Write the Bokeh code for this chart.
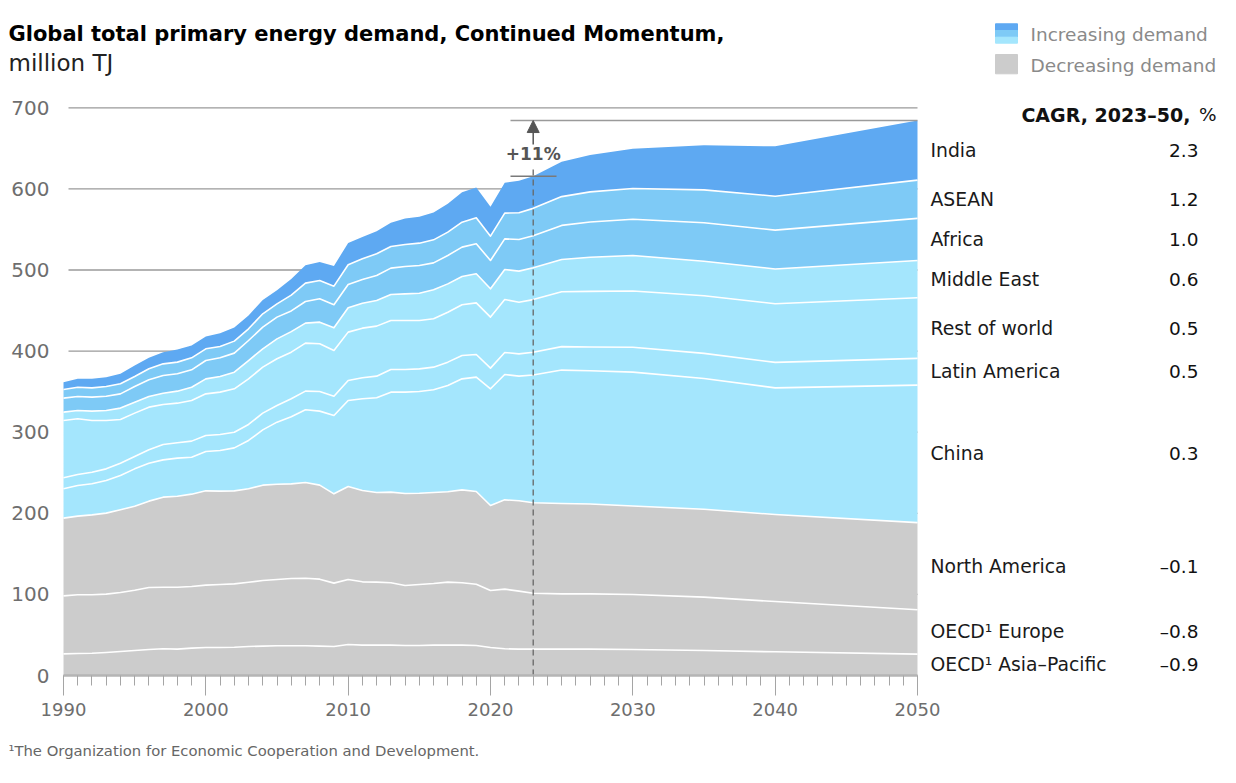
import numpy as np
from bokeh.plotting import figure
from bokeh.models import (ColumnDataSource, Arrow, NormalHead, FixedTicker,
                          SingleIntervalTicker, Range1d, Title)
from bokeh.embed import file_html
from bokeh.resources import INLINE
from bokeh.core.properties import value

# ---------------- data (million TJ) ----------------
years = list(range(1990, 2024)) + [2025, 2027, 2030, 2035, 2040, 2050]

oecd_ap = [26.7, 27.1, 27.5, 28.4, 29.6, 30.8, 32.1, 32.9, 32.5, 33.7,
           34.5, 34.5, 34.9, 35.8, 36.2, 36.6, 36.6, 36.6, 36.2, 35.8,
           38.2, 37.4, 37.4, 37.4, 37.0, 37.0, 37.4, 37.4, 37.4, 37.0,
           34.5, 32.9, 32.5, 32.5,
           32.5, 32.5, 32.1, 30.8, 29.2, 26.3]
oecd_eu = [71.5, 72.4, 72.0, 71.9, 72.7, 74.4, 76.4, 76.0, 76.4, 76.0,
           76.9, 77.7, 78.1, 79.2, 80.9, 81.8, 83.0, 83.4, 82.6, 78.1,
           80.2, 78.1, 77.7, 76.9, 74.0, 75.2, 76.0, 77.7, 76.9, 75.6,
           70.3, 73.6, 71.5, 69.0,
           68.2, 68.2, 67.8, 65.8, 62.0, 54.7]
north_america = [95.8, 97.0, 98.6, 99.9, 102.0, 103.6, 106.5, 111.0, 112.2, 113.9,
                 116.3, 115.1, 114.7, 115.2, 117.6, 117.5, 116.7, 118.0, 115.9, 110.1,
                 114.6, 112.6, 110.5, 111.8, 113.4, 112.6, 112.2, 111.4, 114.6, 114.3,
                 104.8, 110.1, 111.4, 111.5,
                 111.3, 110.8, 109.1, 108.4, 107.3, 107.5]
china = [36.2, 37.8, 38.3, 40.3, 42.3, 46.0, 46.8, 46.0, 46.9, 45.6,
         48.5, 50.1, 53.0, 59.6, 68.2, 76.5, 82.7, 89.6, 91.3, 96.6,
         106.1, 113.1, 116.8, 123.3, 125.0, 125.4, 126.7, 131.1, 136.9, 141.0,
         143.9, 154.6, 153.7, 157.6,
         164.6, 164.3, 165.1, 161.3, 156.2, 169.5]
latin_america = [13.6, 13.6, 14.3, 14.3, 15.2, 15.3, 16.5, 18.9, 18.9, 19.8,
                 19.7, 19.8, 19.3, 19.7, 20.6, 20.6, 22.2, 23.0, 24.2, 23.8,
                 24.7, 25.9, 26.7, 27.9, 27.9, 27.9, 27.9, 28.8, 28.8, 27.9,
                 25.5, 27.1, 27.5, 28.0,
                 28.9, 29.3, 30.6, 30.9, 31.4, 33.0]
rest_of_world = [70.6, 68.6, 63.7, 59.6, 53.9, 53.4, 52.6, 49.4, 48.9, 50.1,
                 51.4, 52.2, 53.5, 56.3, 56.7, 57.5, 57.5, 59.2, 58.8, 56.4,
                 59.6, 61.2, 61.7, 60.4, 60.4, 59.6, 59.6, 61.6, 62.5, 63.7,
                 62.9, 65.3, 63.7, 64.9,
                 67.7, 68.6, 69.4, 71.1, 72.3, 74.8]
middle_east = [10.3, 10.3, 11.6, 12.4, 14.0, 13.5, 13.1, 13.9, 14.8, 16.4,
               18.5, 19.3, 20.5, 22.6, 22.6, 24.6, 25.3, 24.7, 26.7, 27.9,
               30.0, 30.8, 31.6, 32.1, 32.9, 33.7, 35.8, 34.9, 34.9, 35.8,
               34.9, 37.0, 38.3, 39.2,
               39.7, 42.1, 43.8, 42.5, 42.9, 45.9]
africa = [17.3, 17.2, 17.2, 17.6, 17.6, 19.4, 20.6, 21.8, 21.4, 21.4,
          22.6, 23.0, 23.5, 24.7, 26.7, 26.8, 25.5, 26.7, 28.8, 28.4,
          28.7, 29.2, 30.8, 32.5, 33.7, 34.2, 33.2, 35.0, 36.2, 37.0,
          34.9, 37.8, 39.0, 39.5,
          42.1, 43.4, 44.6, 47.5, 47.9, 52.0]
asean = [10.7, 11.5, 11.5, 12.0, 12.4, 12.3, 13.6, 14.4, 14.4, 14.8,
         14.4, 14.0, 14.8, 14.4, 16.5, 16.4, 19.5, 22.6, 22.6, 23.0,
         24.3, 25.5, 26.8, 26.7, 27.2, 27.5, 28.4, 28.8, 30.8, 32.0,
         30.0, 31.7, 32.9, 33.8,
         35.5, 37.1, 38.0, 40.5, 41.8, 47.1]
india = [9.0, 10.3, 11.1, 11.5, 12.3, 13.6, 13.5, 14.4, 15.6, 15.3,
         15.2, 16.3, 16.7, 16.5, 17.0, 16.7, 20.0, 22.2, 22.9, 24.9,
         26.9, 26.9, 27.7, 29.4, 32.0, 32.7, 33.7, 35.1, 37.0, 37.5,
         36.3, 37.4, 39.5, 39.5,
         43.0, 45.5, 49.1, 54.9, 61.5, 73.5]

region_keys = ["oecd_ap", "oecd_eu", "north_america", "china", "latin_america",
               "rest_of_world", "middle_east", "africa", "asean", "india"]
region_series = [oecd_ap, oecd_eu, north_america, china, latin_america,
                 rest_of_world, middle_east, africa, asean, india]
region_labels = ["OECD¹ Asia–Pacific", "OECD¹ Europe", "North America", "China",
                 "Latin America", "Rest of world", "Middle East", "Africa", "ASEAN", "India"]
cagr = [-0.9, -0.8, -0.1, 0.3, 0.5, 0.5, 0.6, 1.0, 1.2, 2.3]
y_ticks = [0, 100, 200, 300, 400, 500, 600, 700]
base_year = 2023

title_text = "Global total primary energy demand, Continued Momentum,"
subtitle_text = "million TJ"
legend_texts = ["Increasing demand", "Decreasing demand"]
footnote_text = "¹The Organization for Economic Cooperation and Development."

# ---------------- styling ----------------
GREY = "#cccccc"
LIGHT = "#a4e6fd"
MED = "#7ecaf6"
DARK = "#5ea9f2"
layer_colors = [GREY, GREY, GREY, LIGHT, LIGHT, LIGHT, LIGHT, MED, MED, DARK]
FONT = "DejaVu Sans"

W, H = 1230, 781
LEFT = 8                  # frame left (page px)
FRAME_BOTTOM = 675        # page y of value 0
PXX = 854 / 60.0          # px per year
PY = (675 - 107.3) / 700  # px per unit


def X(px):
    return 1990 + (px - 63) / PXX


def Y(py):
    return (FRAME_BOTTOM - py) / PY


p = figure(width=W, height=H, x_range=Range1d(X(LEFT), X(W)), y_range=Range1d(0, Y(0)),
           output_backend="svg", toolbar_location=None,
           min_border_left=LEFT, min_border_right=0, min_border_top=0,
           min_border_bottom=H - FRAME_BOTTOM)
p.outline_line_color = None
p.background_fill_color = "white"
p.border_fill_color = "white"
p.xgrid.visible = False
p.ygrid.visible = False

# x axis
xa = p.xaxis[0]
xa.ticker = SingleIntervalTicker(interval=10, num_minor_ticks=10)
xa.bounds = (1990, 2050)
xa.axis_line_color = "#b5b5b5"
xa.axis_line_width = 2.5
xa.major_tick_line_color = "#a5a5a5"
xa.minor_tick_line_color = "#a5a5a5"
xa.major_tick_in = 0
xa.minor_tick_in = 0
xa.major_tick_out = 20
xa.minor_tick_out = 10
xa.major_label_standoff = 7
xa.major_label_text_font = FONT
xa.major_label_text_font_size = "18px"
xa.major_label_text_color = "#6e6e6e"

# y axis: labels right-aligned at page x 49
ya = p.yaxis[0]
ya.ticker = FixedTicker(ticks=y_ticks)
ya.bounds = (0, 700)
ya.axis_line_color = None
ya.major_tick_line_color = None
ya.minor_tick_line_color = None
ya.major_tick_out = 0
ya.minor_tick_out = 0
ya.major_tick_in = 0
ya.minor_tick_in = 0
ya.major_label_standoff = -(49 - LEFT)
ya.major_label_text_font = FONT
ya.major_label_text_font_size = "20px"
ya.major_label_text_color = "#6e6e6e"

# gridlines (behind areas)
grid_vals = [t for t in y_ticks if t > 0]
p.segment(x0=[X(68)] * len(grid_vals), x1=[2050] * len(grid_vals), y0=grid_vals, y1=grid_vals,
          line_color="#9a9a9a", line_width=1.3)

# stacked areas with white separators
src = ColumnDataSource(dict(year=years, **{k: s for k, s in zip(region_keys, region_series)}))
p.varea_stack(stackers=region_keys, x="year", color=layer_colors, source=src)
p.vline_stack(stackers=region_keys[:-1], x="year", color=["white"] * 9,
              line_width=1.6, line_join="round", source=src)

# totals & growth annotation
tot = np.sum(np.array(region_series), axis=0)
i_base = years.index(base_year)
tot_base = tot[i_base]
tot_end = tot[-1]
growth = (tot_end / tot_base - 1) * 100

p.segment(x0=[X(510)], x1=[2050], y0=[tot_end], y1=[tot_end], line_color="#9a9a9a", line_width=1.5)
p.segment(x0=[X(510)], x1=[X(556)], y0=[tot_base], y1=[tot_base], line_color="#7a7a7a", line_width=1.5)
p.segment(x0=[base_year], x1=[base_year], y0=[0], y1=[Y(165)], line_color="#666666",
          line_width=1.3, line_dash="6 4")
p.add_layout(Arrow(end=NormalHead(size=12, fill_color="#555555", line_color="#555555"),
                   x_start=base_year, y_start=Y(144), x_end=base_year, y_end=tot_end,
                   line_color="#555555", line_width=1.5))
p.text(x=[base_year], y=[Y(153)], text=[f"+{growth:.0f}%"], text_font=value(FONT),
       text_font_style="bold", text_font_size="17px", text_color="#555555",
       text_align="center", text_baseline="middle")

# right-hand labels at 2050 layer midpoints
last = np.array(region_series)[:, -1]
mids = np.cumsum(last) - last / 2
p.text(x=[X(930)] * 10, y=list(mids), text=region_labels, text_font=value(FONT),
       text_font_size="18.8px", text_color="#1a1a1a", text_align="left", text_baseline="middle")
p.text(x=[X(1198)] * 10, y=list(mids), text=[f"{c:.1f}".replace("-", "–") for c in cagr],
       text_font=value(FONT), text_font_size="18.5px", text_color="#111111",
       text_align="right", text_baseline="middle")

# CAGR header
p.text(x=[X(1216)], y=[Y(114)], text=["%"], text_font=value(FONT), text_font_size="18.5px",
       text_color="#111111", text_align="right", text_baseline="middle")
p.text(x=[X(1190)], y=[Y(114)], text=["CAGR, 2023–50,"], text_font=value(FONT),
       text_font_style="bold", text_font_size="19px", text_color="#111111",
       text_align="right", text_baseline="middle")

# title & subtitle
p.text(x=[X(8)], y=[Y(33)], text=[title_text], text_font=value(FONT), text_font_style="bold",
       text_font_size="21px", text_color="#000000", text_align="left", text_baseline="middle")
p.text(x=[X(8)], y=[Y(62)], text=[subtitle_text], text_font=value(FONT), text_font_size="23px",
       text_color="#222222", text_align="left", text_baseline="middle")

# legend
p.quad(left=[X(995)] * 3, right=[X(1017)] * 3,
       top=[Y(23.3), Y(30), Y(36.7)], bottom=[Y(30), Y(36.7), Y(42.7)],
       color=[DARK, MED, LIGHT])
p.quad(left=[X(995)], right=[X(1017)], top=[Y(54)], bottom=[Y(73.3)], color=[GREY])
p.text(x=[X(1030)] * 2, y=[Y(34), Y(65)], text=legend_texts, text_font=value(FONT),
       text_font_size="18.5px", text_color="#8a8a8a", text_align="left", text_baseline="middle")

# footnote
p.add_layout(Title(text=footnote_text, align="left", text_font=FONT, text_font_size="14.8px",
                   text_font_style="normal", text_color="#666666", standoff=43), "below")

open("out.html", "w").write(file_html(p, INLINE))
